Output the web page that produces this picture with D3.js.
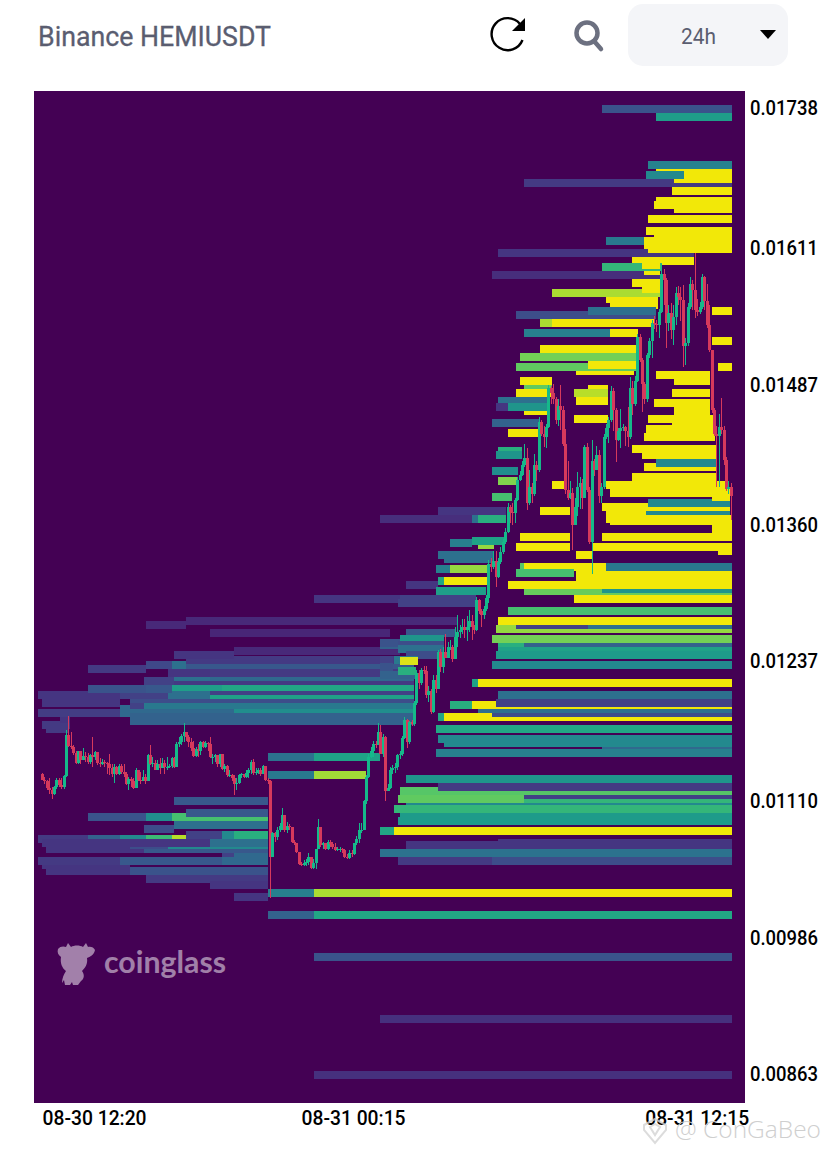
<!DOCTYPE html>
<html><head><meta charset="utf-8">
<script src="https://cdn.jsdelivr.net/npm/d3@7/dist/d3.min.js"></script>
<style>html,body{margin:0;padding:0;background:#fff;overflow:hidden}svg{display:block}</style>
</head><body><svg id="c" width="828" height="1154"></svg>
<script>
// Prices are in units of 0.00001 USDT. Time is the index of a 5-minute candle.
const symbol = "Binance HEMIUSDT";
const intervalLabel = "24h";
const priceTicks = [1738,1611,1487,1360,1237,1110,986,863];
const timeTicks = [21.7,129.6,272.8];
const timeLabels = ["08-30 12:20","08-31 00:15","08-31 12:15"];
const first = 0, last = 287.5;

const closes = [1129,1128,1122,1120,1117,1123,1129,1125,1123,1133,1170,1160,1159,1154,1145,1156,1147,1151,1150,1146,1152,1150,1155,1145,1144,1146,1145,1144,1140,1135,1141,1135,1142,1137,1135,1126,1130,1128,1122,1138,1129,1128,1132,1128,1152,1144,1145,1138,1144,1140,1145,1141,1141,1142,1149,1141,1162,1164,1169,1173,1168,1164,1158,1151,1157,1156,1164,1159,1163,1162,1150,1150,1152,1144,1153,1139,1142,1134,1134,1131,1126,1127,1134,1135,1132,1136,1138,1146,1136,1137,1138,1135,1142,1129,1128,
1060,1081,1078,1084,1088,1098,1084,1088,1087,1073,1072,1064,1053,1052,1054,1055,1060,1050,1054,1067,1087,1070,1072,1067,1073,1071,1069,1066,1067,1067,1066,1060,1059,1063,1062,1072,1076,1084,1084,1110,1132,1150,1156,1162,1161,1173,1153,1168,1119,1122,1138,1140,1141,1152,1153,1167,1184,1164,1182,1180,1199,1226,1217,1229,1228,1206,1210,1191,1220,1212,1245,1232,1245,1240,1250,1250,1239,1259,1263,1265,1268,1265,1268,1273,1268,1265,1292,1282,1279,1284,1294,1325,1322,1328,1313,1327,1336,1345,1354,1377,1372,1371,1383,1401,1406,1415,1421,1380,1395,1388,1415,1410,1454,1443,1440,1449,1484,1480,1474,1455,1468,1464,1434,1392,1385,1389,1360,1377,1395,1398,1385,1431,1392,1345,1418,1410,1424,1387,1395,1440,1448,1455,1482,1464,1437,1445,1448,1449,1445,1440,1484,1470,1491,1531,1510,1488,1474,1514,1527,1543,1542,1541,1553,1588,1582,1543,1552,1537,1549,1570,1567,1564,1522,1525,1558,1579,1573,1555,1553,1558,1585,1563,1541,1519,1464,1443,1441,1449,1446,1419,1393,1395,1387];
const highs = [1136,1132,1129,1131,1123,1124,1131,1131,1131,1134,1175,1187,1173,1161,1156,1156,1156,1158,1155,1154,1153,1168,1156,1155,1149,1148,1147,1146,1153,1144,1144,1142,1144,1144,1144,1137,1132,1132,1131,1140,1138,1137,1138,1135,1153,1161,1150,1147,1147,1149,1149,1147,1150,1144,1150,1150,1164,1168,1171,1181,1173,1170,1167,1165,1159,1162,1165,1165,1165,1164,1168,1153,1153,1150,1153,1153,1144,1143,1138,1135,1134,1131,1135,1136,1135,1138,1140,1147,1148,1140,1140,1140,1143,1142,1131,
1129,1082,1082,1087,1090,1104,1098,1091,1089,1087,1075,1072,1064,1055,1057,1058,1063,1057,1058,1067,1094,1087,1073,1072,1075,1075,1073,1072,1069,1069,1068,1067,1062,1066,1066,1072,1079,1090,1090,1111,1134,1153,1159,1165,1165,1181,1179,1171,1169,1126,1141,1143,1145,1153,1156,1169,1186,1185,1183,1184,1201,1229,1229,1231,1233,1233,1214,1212,1224,1224,1247,1248,1250,1262,1254,1256,1252,1268,1279,1270,1275,1275,1278,1283,1279,1270,1295,1293,1284,1287,1297,1329,1330,1337,1337,1330,1340,1348,1358,1380,1378,1380,1385,1404,1409,1418,1434,1430,1410,1398,1425,1418,1458,1455,1450,1452,1487,1486,1488,1476,1474,1487,1468,1447,1418,1400,1394,1385,1408,1404,1402,1433,1435,1395,1437,1420,1432,1428,1398,1443,1452,1458,1486,1484,1466,1448,1465,1452,1450,1467,1494,1491,1495,1533,1533,1512,1490,1516,1530,1546,1550,1546,1556,1597,1592,1584,1560,1561,1560,1576,1577,1576,1578,1530,1561,1585,1582,1607,1565,1562,1588,1586,1579,1560,1519,1466,1450,1461,1475,1450,1422,1400,1398];
const lows = [1129,1126,1120,1117,1112,1116,1121,1123,1121,1121,1132,1159,1157,1152,1144,1144,1144,1147,1146,1144,1144,1141,1147,1143,1141,1143,1141,1135,1134,1132,1127,1134,1134,1135,1132,1125,1120,1123,1121,1122,1128,1126,1128,1126,1128,1143,1141,1138,1138,1135,1140,1135,1138,1140,1140,1140,1141,1159,1161,1164,1165,1159,1156,1150,1150,1150,1152,1158,1158,1156,1149,1144,1146,1141,1141,1138,1137,1132,1132,1128,1116,1120,1126,1131,1131,1131,1131,1135,1134,1134,1135,1133,1135,1128,1126,
1022,1060,1073,1075,1082,1084,1082,1081,1084,1072,1070,1063,1052,1051,1051,1051,1052,1049,1049,1049,1067,1069,1067,1066,1066,1069,1067,1065,1065,1064,1063,1059,1058,1058,1060,1061,1070,1072,1081,1084,1108,1131,1149,1150,1158,1162,1153,1150,1110,1119,1121,1135,1136,1138,1148,1151,1166,1158,1162,1178,1178,1197,1212,1215,1225,1204,1200,1189,1190,1208,1220,1227,1226,1240,1240,1247,1236,1250,1250,1258,1262,1258,1255,1263,1256,1262,1264,1280,1268,1275,1282,1290,1318,1320,1304,1312,1325,1334,1343,1353,1362,1360,1362,1382,1400,1405,1413,1374,1378,1380,1387,1400,1408,1441,1431,1430,1448,1470,1470,1452,1450,1446,1432,1388,1383,1384,1338,1360,1368,1375,1375,1398,1390,1343,1316,1405,1415,1380,1380,1393,1438,1435,1454,1445,1417,1436,1430,1445,1432,1431,1438,1460,1468,1490,1508,1463,1470,1472,1512,1512,1538,1535,1530,1552,1560,1521,1536,1529,1523,1541,1560,1545,1503,1505,1522,1556,1555,1548,1550,1551,1556,1555,1539,1517,1462,1441,1395,1395,1443,1415,1391,1388,1365];
const firstOpen = 1135;

// Heatmap bands: [price, fromCandle, toCandle, intensity 0..1]; later rows paint over earlier ones.
const bandsFar = [
 [1737.1,233.3,last,.33],[1729.9,255.8,last,.58],[1686.4,252.5,last,.48],
 [1670.1,200.8,last,.22],[1679.1,255.8,last,1],[1673.7,263.3,last,1],[1677.3,251.7,267.5,.5],
 [1662.8,262.5,last,1],[1653.8,255.8,last,1],[1650.1,255,last,1],[1646.5,263.3,last,1],[1637.5,252.5,last,1],
 [1626.6,251.7,last,1],[1624.8,255,last,1],[1617.5,235,250.8,.45],[1617.5,250.8,last,1],[1613.9,250.8,last,1],
 [1606.7,190,271.7,.2],[1610.3,252.5,last,1],[1599.4,245.8,271.7,1],
 [1586.7,187.5,257.5,.17],[1590.4,250.8,257.5,1],[1594,233.3,258.3,.68],[1595.8,250,257.5,1],[1579.5,245.8,257.5,1],
 [1565,235,256.7,1],[1559.6,236.7,256.7,1],[1570.4,212.5,257.5,.88],[1574.1,250,257.5,1],
 [1550.5,197.5,255.8,.3],[1554.1,227.5,255.8,.42],[1543.3,207.5,212.5,.88],[1543.3,212.5,255,1],
 [1534.2,200.8,236.7,.47],[1534.2,236.7,248.3,1],[1519.7,207.5,247.5,1],[1512.5,199.2,247.5,.8],
 [1499.8,222.5,246.7,1],[1503.4,197.5,247.5,.77],[1505.2,227.5,247.5,1],
 [1554.1,279.2,last,1],[1527,279.2,last,1],[1503.4,281.7,last,1]
];
const bandsUpper = [
 [1496.2,255.8,278.3,1],[1490.7,263.3,278.3,1],[1479.8,262.5,278.3,1],[1470.8,255,278.3,1],[1463.5,263.3,278.3,1],
 [1456.3,252.5,279.6,1],[1452.7,262.5,280,1],[1447.2,251.7,280,1],[1440,250.8,280.4,1],[1429.1,245.8,280.8,1],
 [1423.7,250,280.8,1],[1412.8,250.8,280.8,1],[1416.4,255.8,280.8,.5],[1403.8,245.8,280.8,1],[1396.5,235,284.6,1],
 [1389.3,236.7,286.7,1],[1365.7,235,last,1],[1363.9,236.7,last,1],[1369.3,235,251.7,1],
 [1373,251.7,286.7,.5],[1376.6,233.3,286.7,1],[1380.2,252.5,286.7,.5],[1385.6,279.2,286.7,1],
 [1356.7,279.2,last,1],[1349.4,233.3,last,1],[1340.4,229.2,last,1],[1336.8,281.7,last,1],
 [1490.7,199.2,212.5,1],[1483.4,200.8,212.5,.77],[1479.8,197.5,212.5,1],
 [1483.4,227.5,235.8,1],[1479.8,221.7,235.8,.9],[1472.6,222.5,235.8,1],
 [1472.6,190,210.8,.42],[1463.5,200.8,210.8,1],[1467.2,189.2,194.2,.2],[1467.2,194.2,210.8,.55],
 [1456.3,221.7,235.8,1],[1452.7,187.5,207.5,.38],[1443.6,194.2,206.7,1],
 [1427.3,190,200,.65],[1423.7,189.2,200,.55],[1409.2,187.5,198.3,.52],[1400.1,190,198.3,.82],
 [1396.5,212.5,217.5,1],[1385.6,187.5,195.8,.72],[1373,207.5,220,1],
 [1373,165,193.3,.2],[1365.7,140.8,179.2,.17],[1365.7,179.2,181.7,.42],[1365.7,181.7,193.3,.65],
 [1349.4,199.2,220,1],[1340.4,197.5,220,1],[1333.1,222.5,229.2,1],
 [1344,170,179.2,.47],[1342.2,181.7,188.3,.85],[1345.8,179.2,192.5,.6],
 [1333.1,165,188.3,.42],[1329.5,167.5,188.3,.42],[1320.4,164.2,170,.47],[1320.4,170,186.7,.85]
];
const bandsMiddle = [
 [1322.2,199.2,200.8,.75],[1322.2,200.8,235,1],[1322.2,235,last,.45],[1316.8,197.5,221.7,.72],
 [1300.5,200.8,233.3,.78],[1300.5,233.3,last,.78],[1302.3,233.3,last,.55],
 [1306,194.2,last,1],[1315,222.5,last,1],[1309.6,222.5,last,1],
 [1309.6,165,167.5,.62],[1309.6,167.5,186.7,1],[1306,151.7,165,.2],[1300.5,164.2,185,.58],
 [1293.3,221.7,last,.96],[1293.3,113.3,149.2,.2],[1293.3,149.2,180.8,.25],[1289.6,148.3,180.8,.25],
 [1282.4,194.2,last,.72],
 [1266.1,189.2,last,.85],[1269.7,197.5,227.5,.25],[1269.7,227.5,last,.42],
 [1273.3,190,last,.97],[1273.3,60,173.3,.15],[1269.7,43.3,60,.15],[1262.5,151.7,172.5,.35],
 [1257,187.5,last,.8],[1249.8,190,200.8,.65],[1249.8,200.8,last,.38],[1246.2,190,last,.6],[1242.5,189.2,last,.57],
 [1233.5,187.5,last,.5]
];
const bandsLeftTop = [
 [1175.5,1.7,10.8,.22],[1179.1,0,11.7,.22],[1184.5,7.5,11.7,.2],
 [1182.7,36.7,155,.38],
 [1190,-1.7,32.5,.23],[1190,32.5,36.7,.4],[1190,36.7,155,.38],
 [1193.6,32.5,80,.4],[1193.6,80,155,.52],
 [1197.2,36.7,42.5,.25],[1197.2,42.5,155,.45],
 [1199,0,32.5,.2],[1202.7,36.7,155,.3],
 [1206.3,-1.7,32.5,.2],[1206.3,32.5,52.5,.25],[1206.3,52.5,70,.42],[1206.3,70,155,.6],
 [1209.9,70,155,.25],
 [1211.7,19.2,43.3,.33],[1211.7,43.3,54.2,.35],
 [1213.5,54.2,75,.58],[1213.5,75,155,.62],
 [1218.9,55,155,.22],[1218.9,42.5,55,.25],
 [1222.6,55,70,.42],[1222.6,70,155,.4],
 [1226.2,52.5,70,.2],[1226.2,70,155,.22],
 [1229.8,19.2,43.3,.22],
 [1233.5,43.3,54.2,.28],[1233.5,54.2,60,.42],[1233.5,60,155,.35],
 [1238,60,149.2,.22],[1242.5,55,80,.2],[1246.2,80,149.2,.15],[1251.6,140.8,149.2,.38],[1262.5,70,145,.14],
 [1257,149.2,167.5,.55],[1253.4,140.8,149.2,.33],[1251.6,148.3,167.5,.3],[1248,148.3,167.5,.42],[1242.5,151.7,165,.3],
 [1238,140.8,146.3,.25],[1238,146.7,156.7,.45],[1237.1,149.2,156.7,.95],
 [1224.4,140.8,155.8,.38],[1228,148.3,155.8,.65],[1231.6,140.8,146.3,.33]
];
const bandsLower = [
 [1217.1,179.2,181.7,.6],[1217.1,181.7,last,1],[1206.3,190,last,.42],[1186.4,165,167.5,.62],[1186.4,167.5,last,1],
 [1190,187.5,last,.3],[1193.6,181.7,last,.42],[1197.2,170,179.2,.65],[1197.2,179.2,189.2,1],[1197.2,189.2,last,1],
 [1199,189.2,last,.25],[1175.5,164.2,last,.62],[1159.2,233.3,last,.4],[1166.4,165,last,.5],[1162.8,167.5,last,.5],[1153.8,164.2,last,.47],
 [1130.2,151.7,last,.55],[1106.7,151.7,last,.5],[1112.1,200.8,last,.68],[1112.1,148.3,200.8,.77],
 [1115.7,200.8,last,.25],[1115.7,149.2,200.8,.77],[1119.3,149.2,last,.75],[1123,165,last,.22],
 [1103,146.7,last,.68],[1095.8,149.2,last,.57],[1092.2,148.3,last,.57],[1083.1,140.8,146.7,.62],[1083.1,146.7,last,1],
 [1072.2,190,last,.2],[1070.4,151.7,last,.2],[1063.2,140.8,last,.43],[1055.9,148.3,187.5,.22],[1055.9,187.5,last,.3],
 [1027,94.2,113.3,.47],[1027,113.3,140.8,.88],[1027,140.8,last,1],[1023.3,80,94.2,.2],
 [1007,94.2,113.3,.38],[1007,113.3,last,.62],[969,113.3,last,.33],[912.8,140.8,last,.18],[862.1,113.3,last,.18]
];
const bandsLeftBottom = [
 [1150.1,94.2,113.3,.43],[1150.1,113.3,140.8,.6],[1133.8,94.2,113.3,.45],[1133.8,113.3,135,.87],
 [1110.3,55,94.2,.35],[1095.8,19.2,43.3,.33],[1095.8,43.3,54.2,.52],[1095.8,54.2,94.2,.72],[1099.4,60,94.2,.35],
 [1084.9,42.5,55,.3],[1088.5,55,94.2,.42],[1079.5,60,75,.25],[1079.5,75,80,.5],[1079.5,80,94.2,.65],
 [1075.9,-1.7,19.2,.22],[1075.9,19.2,32.5,.38],[1075.9,32.5,43.3,.5],[1075.9,43.3,54.2,.7],[1075.9,54.2,60,.9],
 [1066.8,1.7,42.5,.2],[1066.8,42.5,94.2,.35],[1070.4,36.7,52.5,.3],[1070.4,52.5,94.2,.5],
 [1072.2,0,70,.2],[1072.2,70,94.2,.42],
 [1052.3,0,36.7,.2],[1046.9,1.7,36.7,.2],[1046.9,36.7,94.2,.33],
 [1059.6,75,80,.25],[1059.6,80,94.2,.4],[1055.9,-1.7,32.5,.22],[1055.9,32.5,75,.35],[1055.9,75,94.2,.4],
 [1039.6,43.3,94.2,.22],[1034.2,70,94.2,.2]
];
const bandSpan = 7.25;
const upColor = "#15b98a", downColor = "#d6395c", hotColor = "#f2e808";

const svg = d3.select("#c");
const x = d3.scaleLinear().domain([0,288]).range([42,733.2]);
const y = d3.scaleLinear().domain([863,1738]).range([1074,108]);
const ramp = d3.scaleLinear().domain([0,.35,.5,1]).range([0,.27,.47,1]);
const heat = t => t>=.96 ? hotColor : d3.interpolateViridis(ramp(t));

svg.append("rect").attr("x",34).attr("y",91).attr("width",711).attr("height",1012).attr("fill",d3.interpolateViridis(0));

const bands = [...bandsFar,...bandsUpper,...bandsMiddle,...bandsLeftTop,...bandsLower,...bandsLeftBottom];
svg.append("g").attr("shape-rendering","crispEdges").selectAll("rect").data(bands).join("rect")
  .attr("x",d=>Math.round(x(d[1])))
  .attr("width",d=>Math.round(x(d[2]))-Math.round(x(d[1])))
  .attr("y",d=>Math.round(y(d[0]+bandSpan/2)))
  .attr("height",d=>Math.round(y(d[0]-bandSpan/2))-Math.round(y(d[0]+bandSpan/2)))
  .attr("fill",d=>heat(d[3]));

const candles = closes.map((c,i)=>({i,close:c,open:i?closes[i-1]:firstOpen,high:highs[i],low:lows[i]}));
const gc = svg.append("g").selectAll("g").data(candles).join("g")
  .attr("fill",d=>d.close>=d.open?upColor:downColor);
gc.append("rect").attr("shape-rendering","crispEdges")
  .attr("x",d=>Math.round(x(d.i))).attr("width",1)
  .attr("y",d=>y(d.high)).attr("height",d=>Math.max(1,y(d.low)-y(d.high)));
gc.append("rect").attr("shape-rendering","crispEdges")
  .attr("x",d=>Math.round(x(d.i))-1).attr("width",3)
  .attr("y",d=>y(Math.max(d.open,d.close))).attr("height",d=>Math.max(1,Math.abs(y(d.open)-y(d.close))));

// axes
const axisFont = "Roboto, sans-serif";
const yAxis = d3.axisRight(y).tickValues(priceTicks).tickSize(0).tickPadding(0).tickFormat(d=>(d/1e5).toFixed(5));
const gy = svg.append("g").attr("transform","translate(750,0)").call(yAxis);
const xAxis = d3.axisBottom(x).tickValues(timeTicks).tickSize(0).tickPadding(0).tickFormat((d,i)=>timeLabels[i]);
const gx = svg.append("g").attr("transform","translate(0,1110)").call(xAxis);
[gy,gx].forEach(g=>{g.select(".domain").remove();
  g.selectAll("text").attr("font-family",axisFont).attr("font-size",20.5).attr("font-weight",500).attr("fill","#000");});
gy.selectAll("text").attr("textLength",68).attr("lengthAdjust","spacingAndGlyphs");
gx.selectAll("text").attr("textLength",104).attr("lengthAdjust","spacingAndGlyphs");

// header
svg.append("text").text(symbol).attr("x",38).attr("y",45.5).attr("font-family","Roboto, sans-serif").attr("font-size",27).attr("font-weight",400)
  .attr("fill","#5a5d70").attr("stroke","#5a5d70").attr("stroke-width",.3).attr("textLength",233).attr("lengthAdjust","spacingAndGlyphs");
svg.append("path").attr("d","M520,24 A16,16 0 1 0 522.5,40").attr("fill","none").attr("stroke","#000").attr("stroke-width",2.4);
svg.append("path").attr("d","M525,18 L525,31 L512,31 Z").attr("fill","#000");
svg.append("circle").attr("cx",587).attr("cy",33).attr("r",10.5).attr("fill","none").attr("stroke","#6c7080").attr("stroke-width",4.5);
svg.append("path").attr("d","M594,41 L601,49").attr("stroke","#6c7080").attr("stroke-width",4.5).attr("stroke-linecap","round");
svg.append("rect").attr("x",628).attr("y",4).attr("width",160).attr("height",62).attr("rx",15).attr("fill","#f4f5f8");
svg.append("text").text(intervalLabel).attr("x",698.5).attr("y",43.5).attr("text-anchor","middle").attr("font-family","Roboto, sans-serif")
  .attr("font-size",22).attr("fill","#5a5d70").attr("textLength",35).attr("lengthAdjust","spacingAndGlyphs");
svg.append("path").attr("d","M760,30 L776,30 L768,39 Z").attr("fill","#000");

// coinglass watermark
const wm = svg.append("g").attr("fill","#fff").attr("fill-opacity",.5);
wm.append("path").attr("d","M58,949 C60,946 64,946 66,947 L68,943 L71,947 C74,945 80,945 83,947 L86,943 L88,947 C90,946 94,947 95,950 C94,955 90,957 87,958 C88,964 85,968 82,971 C85,975 84,979 81,981 L78,985 L73,985 L72,982 L70,985 L65,985 L64,980 L62,983 C62,978 64,974 66,971 C62,968 60,963 61,957 C58,955 57,952 58,949 Z");
svg.append("text").text("coinglass").attr("x",104).attr("y",973).attr("font-family","Lato, sans-serif").attr("font-size",30).attr("font-weight",700)
  .attr("fill","#fff").attr("fill-opacity",.5).attr("textLength",122).attr("lengthAdjust","spacingAndGlyphs");

// repost watermark
const rp = svg.append("g").attr("fill","none").attr("stroke","#d4d4d4").attr("stroke-width",2).attr("opacity",.8);
rp.append("path").attr("d","M644,1125 L655,1119 L666,1125 L666,1130 L655,1143 L644,1130 Z");
rp.append("path").attr("d","M650,1127 L655,1124 L660,1127 L655,1135 Z");
svg.append("text").text("@ ConGaBeo").attr("x",675).attr("y",1138).attr("font-family","'Open Sans', sans-serif").attr("font-size",24).attr("font-weight",300)
  .attr("fill","#cfcfcf").attr("textLength",146).attr("lengthAdjust","spacingAndGlyphs");
</script></body></html>
